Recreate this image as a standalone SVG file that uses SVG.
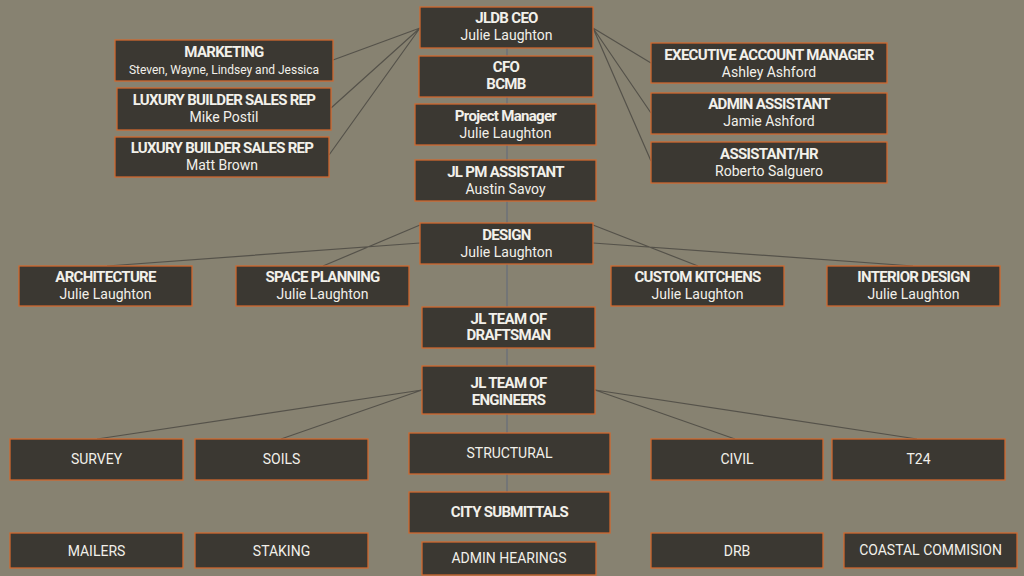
<svg xmlns="http://www.w3.org/2000/svg" width="1024" height="576" viewBox="0 0 1024 576">
<style>
.bx{fill:#3b3832;stroke:#d0682e;stroke-width:1.3}
text{font-family:Roboto,"Liberation Sans",sans-serif;fill:#f2f0ea;text-anchor:middle}
.t{font-weight:bold;font-size:15px;letter-spacing:-0.7px}
.s{font-size:14px}
.m{font-size:12px}
.l{font-size:14px}
.ln{stroke:#55524a;stroke-width:1.2;fill:none}
.v{stroke:#6c7178;stroke-width:1.5;fill:none}
</style>
<rect width="1024" height="576" fill="#878271"/>
<g id="connectors">
<path class="v" d="M507 48V492"/>
<path class="ln" d="M420 28L333 60M420 28L331 108M420 28L329 155"/>
<path class="ln" d="M593 28L651 63M593 28L651 113M593 28L651 161"/>
<path class="ln" d="M420 243L107 266M420 225L323 266M593 225L698 266M593 243L913 266"/>
<path class="ln" d="M422 390L97 439M422 390L281 439M595 390L735 439M595 390L917 439"/>
</g>
<g id="ceo"><rect class="bx" x="420" y="7" width="173" height="41"/><text class="t" x="506.5" y="23">JLDB CEO</text><text class="s" x="506.5" y="40">Julie Laughton</text></g>
<g id="cfo"><rect class="bx" x="419" y="56" width="174" height="41"/><text class="t" x="506" y="72">CFO</text><text class="t" x="506" y="89">BCMB</text></g>
<g id="pm"><rect class="bx" x="415" y="104" width="181" height="41"/><text class="t" x="505.5" y="121">Project Manager</text><text class="s" x="505.5" y="138">Julie Laughton</text></g>
<g id="pmassist"><rect class="bx" x="415" y="160" width="181" height="41"/><text class="t" x="505.5" y="177">JL PM ASSISTANT</text><text class="s" x="505.5" y="194">Austin Savoy</text></g>
<g id="marketing"><rect class="bx" x="115" y="40" width="218" height="41"/><text class="t" x="224" y="57">MARKETING</text><text class="m" x="224" y="74">Steven, Wayne, Lindsey and Jessica</text></g>
<g id="sales1"><rect class="bx" x="117" y="88" width="214" height="42"/><text class="t" x="224" y="105">LUXURY BUILDER SALES REP</text><text class="s" x="224" y="122">Mike Postil</text></g>
<g id="sales2"><rect class="bx" x="115" y="137" width="214" height="40"/><text class="t" x="222" y="153">LUXURY BUILDER SALES REP</text><text class="s" x="222" y="170">Matt Brown</text></g>
<g id="eam"><rect class="bx" x="651" y="43" width="236" height="40"/><text class="t" x="769" y="60">EXECUTIVE ACCOUNT MANAGER</text><text class="s" x="769" y="77">Ashley Ashford</text></g>
<g id="admin"><rect class="bx" x="651" y="93" width="236" height="41"/><text class="t" x="769" y="109">ADMIN ASSISTANT</text><text class="s" x="769" y="126">Jamie Ashford</text></g>
<g id="hr"><rect class="bx" x="651" y="142" width="236" height="41"/><text class="t" x="769" y="159">ASSISTANT/HR</text><text class="s" x="769" y="176">Roberto Salguero</text></g>
<g id="design"><rect class="bx" x="420" y="223" width="173" height="41"/><text class="t" x="506.5" y="240">DESIGN</text><text class="s" x="506.5" y="257">Julie Laughton</text></g>
<g id="arch"><rect class="bx" x="19" y="266" width="173" height="40"/><text class="t" x="105.5" y="282">ARCHITECTURE</text><text class="s" x="105.5" y="299">Julie Laughton</text></g>
<g id="space"><rect class="bx" x="236" y="266" width="173" height="40"/><text class="t" x="322.5" y="282">SPACE PLANNING</text><text class="s" x="322.5" y="299">Julie Laughton</text></g>
<g id="kitchens"><rect class="bx" x="611" y="266" width="173" height="40"/><text class="t" x="697.5" y="282">CUSTOM KITCHENS</text><text class="s" x="697.5" y="299">Julie Laughton</text></g>
<g id="interior"><rect class="bx" x="827" y="266" width="173" height="40"/><text class="t" x="913.5" y="282">INTERIOR DESIGN</text><text class="s" x="913.5" y="299">Julie Laughton</text></g>
<g id="draftsman"><rect class="bx" x="422" y="307" width="173" height="41"/><text class="t" x="508.5" y="324">JL TEAM OF</text><text class="t" x="508.5" y="340">DRAFTSMAN</text></g>
<g id="engineers"><rect class="bx" x="422" y="366" width="173" height="48"/><text class="t" x="508.5" y="388">JL TEAM OF</text><text class="t" x="508.5" y="405">ENGINEERS</text></g>
<g id="survey"><rect class="bx" x="10" y="439" width="173" height="41"/><text class="l" x="96.5" y="464">SURVEY</text></g>
<g id="soils"><rect class="bx" x="195" y="439" width="173" height="41"/><text class="l" x="281.5" y="464">SOILS</text></g>
<g id="structural"><rect class="bx" x="409" y="433" width="201" height="41"/><text class="l" x="509.5" y="458">STRUCTURAL</text></g>
<g id="civil"><rect class="bx" x="651" y="439" width="172" height="41"/><text class="l" x="737" y="464">CIVIL</text></g>
<g id="t24"><rect class="bx" x="832" y="439" width="173" height="41"/><text class="l" x="918.5" y="464">T24</text></g>
<g id="city"><rect class="bx" x="409" y="492" width="201" height="41"/><text class="t" x="509.5" y="517">CITY SUBMITTALS</text></g>
<g id="mailers"><rect class="bx" x="10" y="533" width="173" height="35"/><text class="l" x="96.5" y="556">MAILERS</text></g>
<g id="staking"><rect class="bx" x="195" y="533" width="173" height="35"/><text class="l" x="281.5" y="556">STAKING</text></g>
<g id="hearings"><rect class="bx" x="422" y="542" width="174" height="33"/><text class="l" x="509" y="563">ADMIN HEARINGS</text></g>
<g id="drb"><rect class="bx" x="651" y="533" width="172" height="35"/><text class="l" x="737" y="556">DRB</text></g>
<g id="coastal"><rect class="bx" x="844" y="533" width="173" height="35"/><text class="l" x="930.5" y="555">COASTAL COMMISION</text></g>
</svg>
